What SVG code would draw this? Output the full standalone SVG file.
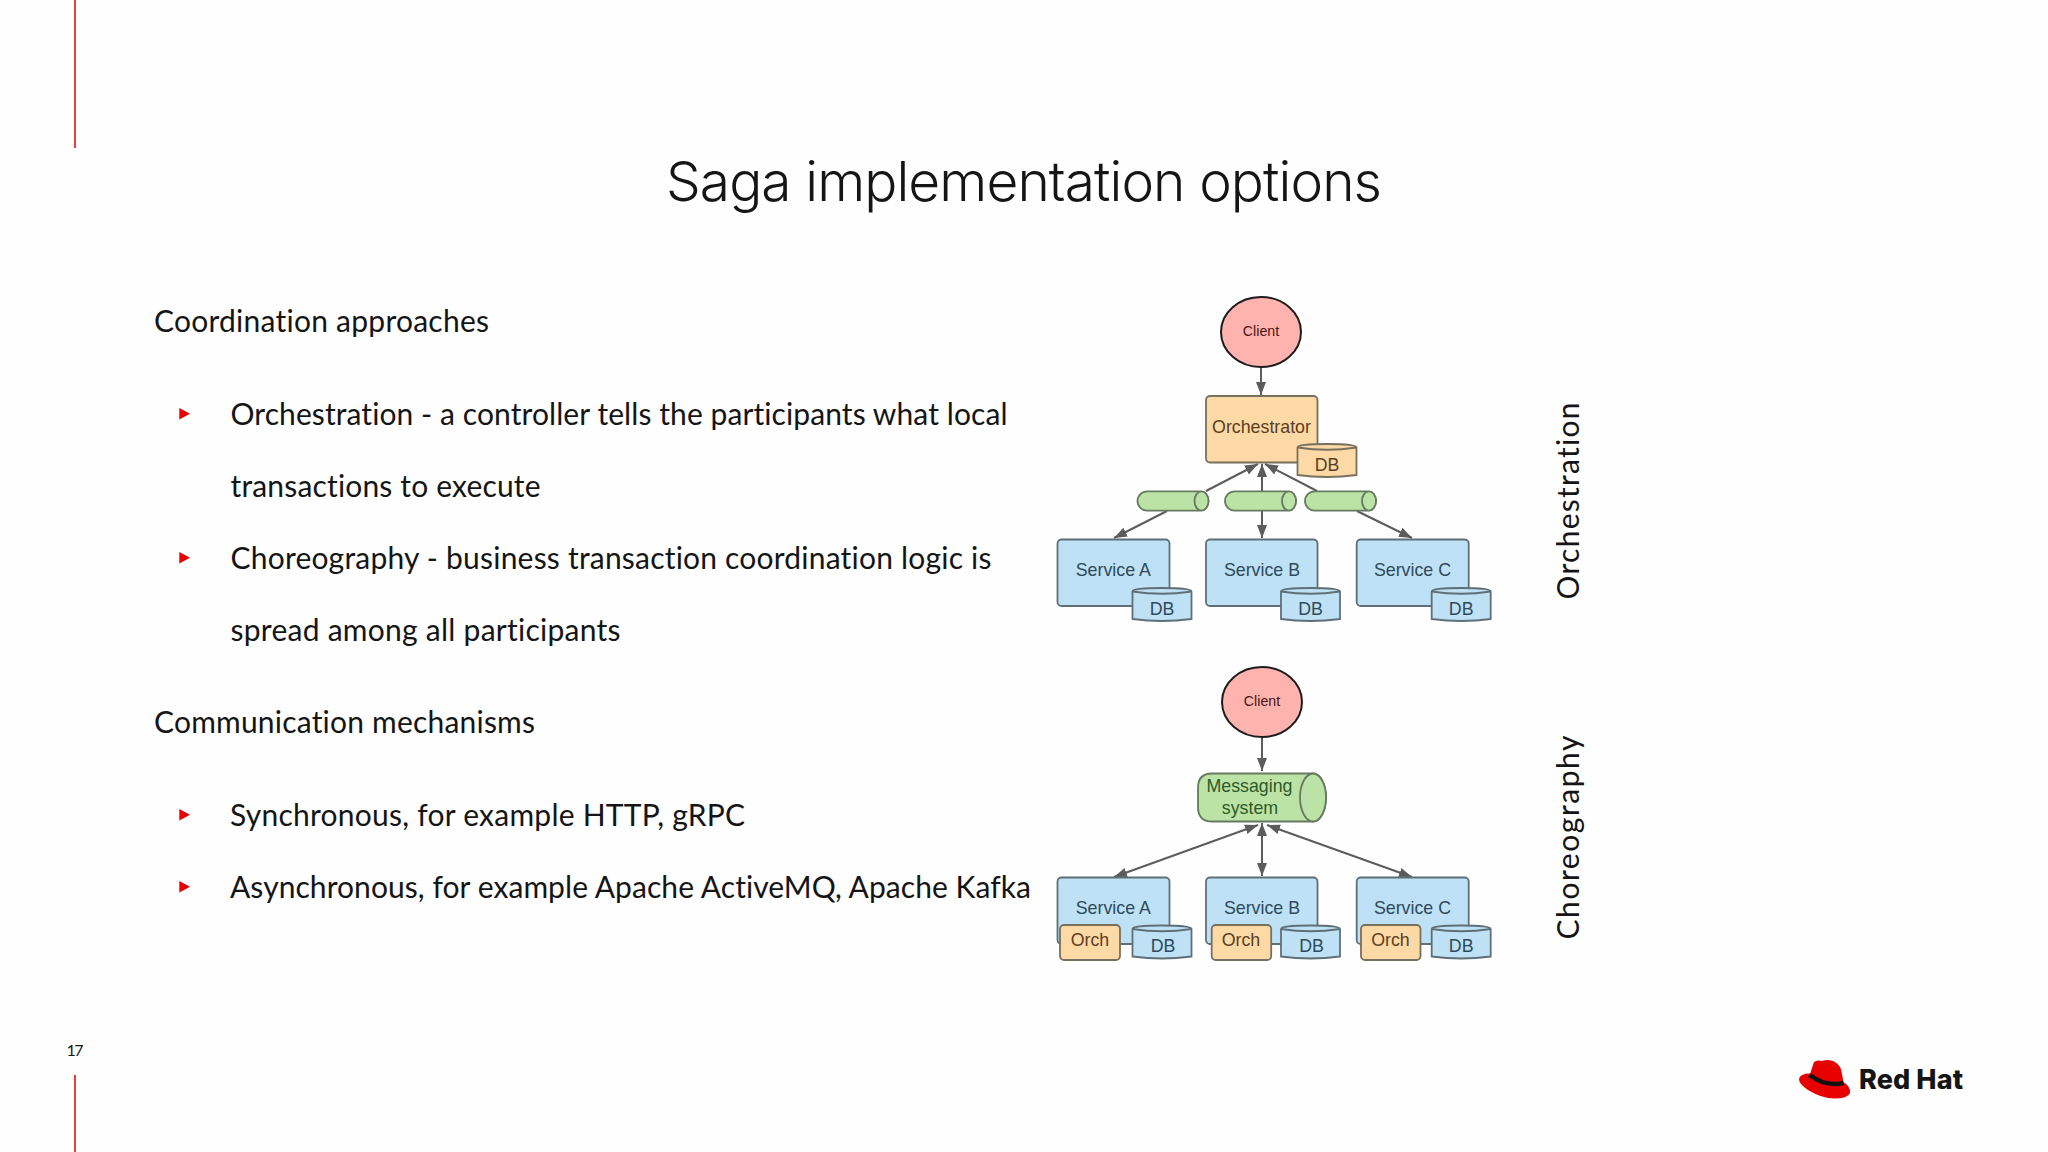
<svg xmlns="http://www.w3.org/2000/svg" width="2048" height="1152" viewBox="0 0 2048 1152">
<style>
.main{font-family:"Lato","Noto Sans",sans-serif;fill:#151515;font-size:30px;font-variant-ligatures:none}
.title{font-family:"Inter","Lato",sans-serif;font-size:55px;text-anchor:middle;font-weight:300}
.bul{fill:#e60000}
.lab{font-family:"Liberation Sans",Arial,sans-serif;font-size:17.8px;text-anchor:middle}
.sv{fill:#bfe1f5;stroke:#5f6f78;stroke-width:1.8}
.or{fill:#fdd9a6;stroke:#77705f;stroke-width:1.8}
.gr{fill:#bce3a6;stroke:#657a5f;stroke-width:1.8}
.cl{fill:#ffb3ae;stroke:#1c1c1c;stroke-width:2}
.tsv{fill:#2c4a5c}.tor{fill:#5a3f1e}.tgr{fill:#2c5a28}.tcl{fill:#4a1414;font-size:14.2px}
.cn{fill:none;stroke:#5c5c5c;stroke-width:2;marker-end:url(#ah)}
.cb{marker-start:url(#ah)}
.red{stroke:#e00000;stroke-width:1.5;fill:none}
</style>
<defs>
<marker id="ah" markerUnits="userSpaceOnUse" markerWidth="14" markerHeight="12" refX="13" refY="6" orient="auto-start-reverse"><path d="M0,1 L13,6 L0,11 Z" fill="#5c5c5c"/></marker>
<path id="dbb" d="M0,3.5 Q0,0 29.5,0 Q59,0 59,3.5 V31 Q29.5,35 0,31 Z"/>
<path id="dbt" d="M0,3.5 Q29.5,8 59,3.5" fill="none"/>
<g id="pipe"><rect x="0" y="0" width="71" height="19.4" rx="9.7"/><ellipse cx="64" cy="9.7" rx="7" ry="9.7"/></g>
</defs>
<rect width="2048" height="1152" fill="#fefefe"/>
<g id="frame">
<path class="red" d="M75,0 V148 M75,1075 V1152"/>
<text class="main" x="75" y="1056" text-anchor="middle" style="font-size:16px" textLength="17">17</text>
</g>
<text class="main title" x="1024" y="201" textLength="716">Saga implementation options</text>
<g id="body">
<text class="main" x="154" y="332" textLength="335">Coordination approaches</text>
<path class="bul" d="M179.3,408 L190,413.7 L179.3,419.4 Z"/>
<text class="main" x="230.5" y="425" textLength="777">Orchestration - a controller tells the participants what local</text>
<text class="main" x="230.5" y="497" textLength="310">transactions to execute</text>
<path class="bul" d="M179.3,552 L190,557.7 L179.3,563.4 Z"/>
<text class="main" x="230.5" y="569" textLength="761">Choreography - business transaction coordination logic is</text>
<text class="main" x="230.5" y="641" textLength="390">spread among all participants</text>
<text class="main" x="154" y="733" textLength="381">Communication mechanisms</text>
<path class="bul" d="M179.3,809 L190,814.7 L179.3,820.4 Z"/>
<text class="main" x="230" y="826" textLength="515">Synchronous, for example HTTP, gRPC</text>
<path class="bul" d="M179.3,881 L190,886.7 L179.3,892.4 Z"/>
<text class="main" x="230" y="898" textLength="801">Asynchronous, for example Apache ActiveMQ, Apache Kafka</text>
</g>
<text class="main" transform="translate(1579,599.5) rotate(-90)" textLength="197">Orchestration</text>
<text class="main" transform="translate(1579,939.5) rotate(-90)" textLength="204">Choreography</text>

<g id="connectors">
<path class="cn" d="M1261,367 V395"/>
<path class="cn" d="M1206,491 L1258,464"/>
<path class="cn" d="M1167,511 L1114,538"/>
<path class="cn" d="M1262,491 V464"/>
<path class="cn" d="M1262,511 V538"/>
<path class="cn" d="M1317,491 L1265,464"/>
<path class="cn" d="M1357,511 L1412,538"/>
<path class="cn" d="M1262,737 V771"/>
<path class="cn cb" d="M1258,825 L1114,877"/>
<path class="cn cb" d="M1262,823 V876"/>
<path class="cn cb" d="M1267,825 L1412,877"/>
</g>

<g id="client1"><ellipse class="cl" cx="1261" cy="332" rx="40" ry="35"/><text class="lab tcl" x="1261" y="336">Client</text></g>
<g id="orchestrator"><rect class="or" x="1206" y="396" width="111.5" height="66.5" rx="4"/><text class="lab tor" x="1261.5" y="432.5">Orchestrator</text></g>
<g id="orch-db" class="or" transform="translate(1297.5,444)"><use href="#dbb"/><use href="#dbt"/><text class="lab tor" x="29.5" y="27" stroke="none">DB</text></g>
<g id="pipe1" class="gr" transform="translate(1137.5,491.3)"><use href="#pipe"/></g>
<g id="pipe2" class="gr" transform="translate(1225,491.3)"><use href="#pipe"/></g>
<g id="pipe3" class="gr" transform="translate(1305,491.3)"><use href="#pipe"/></g>
<g id="svc-a1"><rect class="sv" x="1057.5" y="539.5" width="112" height="66.5" rx="4"/><text class="lab tsv" x="1113.3" y="576">Service A</text></g>
<g id="db-a1" class="sv" transform="translate(1132.5,588)"><use href="#dbb"/><use href="#dbt"/><text class="lab tsv" x="29.5" y="26.5" stroke="none">DB</text></g>
<g id="svc-b1"><rect class="sv" x="1206" y="539.5" width="111.5" height="66.5" rx="4"/><text class="lab tsv" x="1262" y="576">Service B</text></g>
<g id="db-b1" class="sv" transform="translate(1281,588)"><use href="#dbb"/><use href="#dbt"/><text class="lab tsv" x="29.5" y="26.5" stroke="none">DB</text></g>
<g id="svc-c1"><rect class="sv" x="1356.7" y="539.5" width="112" height="66.5" rx="4"/><text class="lab tsv" x="1412.5" y="576">Service C</text></g>
<g id="db-c1" class="sv" transform="translate(1431.7,588)"><use href="#dbb"/><use href="#dbt"/><text class="lab tsv" x="29.5" y="26.5" stroke="none">DB</text></g>

<g id="client2"><ellipse class="cl" cx="1262" cy="702" rx="40" ry="35"/><text class="lab tcl" x="1262" y="705.5">Client</text></g>
<g id="messaging"><path class="gr" d="M1212,773.5 H1313 A13,24 0 0 1 1313,821.5 H1212 Q1198,821.5 1198,807 V788 Q1198,773.5 1212,773.5 Z"/><ellipse class="gr" cx="1313" cy="797.5" rx="13" ry="24"/><text class="lab tgr" x="1249.5" y="792">Messaging</text><text class="lab tgr" x="1250" y="813.5">system</text></g>
<g id="svc-a2"><rect class="sv" x="1057.5" y="877.5" width="112" height="66.5" rx="4"/><text class="lab tsv" x="1113.3" y="914">Service A</text></g>
<g id="orch-a2"><rect class="or" x="1060" y="925" width="60" height="35" rx="4"/><text class="lab tor" x="1090" y="946">Orch</text></g>
<g id="db-a2" class="sv" transform="translate(1132.5,925.5)"><use href="#dbb"/><use href="#dbt"/><text class="lab tsv" x="30.5" y="26.5" stroke="none">DB</text></g>
<g id="svc-b2"><rect class="sv" x="1206" y="877.5" width="111.5" height="66.5" rx="4"/><text class="lab tsv" x="1262" y="914">Service B</text></g>
<g id="orch-b2"><rect class="or" x="1211.7" y="925" width="59.5" height="35" rx="4"/><text class="lab tor" x="1241" y="946">Orch</text></g>
<g id="db-b2" class="sv" transform="translate(1281,925.5)"><use href="#dbb"/><use href="#dbt"/><text class="lab tsv" x="30.5" y="26.5" stroke="none">DB</text></g>
<g id="svc-c2"><rect class="sv" x="1356.7" y="877.5" width="112" height="66.5" rx="4"/><text class="lab tsv" x="1412.5" y="914">Service C</text></g>
<g id="orch-c2"><rect class="or" x="1361" y="925" width="59.5" height="35" rx="4"/><text class="lab tor" x="1390.5" y="946">Orch</text></g>
<g id="db-c2" class="sv" transform="translate(1431.7,925.5)"><use href="#dbb"/><use href="#dbt"/><text class="lab tsv" x="29.5" y="26.5" stroke="none">DB</text></g>

<g id="logo">
<path fill="#e60000" d="M1810,1074 L1814,1062 Q1817,1059.5 1822,1061 Q1827,1059.5 1831,1060.5 Q1838,1062 1841,1069 L1843.5,1082 Q1851,1087 1850,1093 Q1848,1098.5 1834,1098.5 Q1822,1098.5 1808,1090 Q1799,1084 1799,1079 Q1800,1073.5 1810,1073.5 Z"/>
<path fill="none" stroke="#111" stroke-width="4.5" d="M1809.5,1075 Q1826,1087 1843.5,1083"/>
<text x="1859" y="1089" font-family="Inter,'Liberation Sans',sans-serif" font-weight="800" font-size="27" fill="#151515" textLength="104">Red Hat</text>
</g>
</svg>
